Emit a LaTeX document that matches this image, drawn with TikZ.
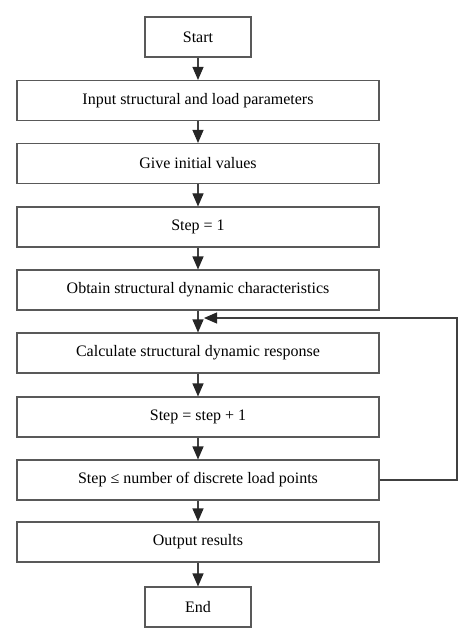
\documentclass[tikz,border=0pt]{standalone}
\usepackage{fontspec}
\setmainfont{Liberation Serif}
\usetikzlibrary{arrows.meta}
\begin{document}
\begin{tikzpicture}[x=1pt,y=-1pt]
\tikzstyle{every node}+=[inner sep=0pt]
\tikzstyle{box}=[draw=black!65, line width=1.1pt, minimum height=40pt, minimum width=362pt, font=\fontsize{16}{18}\selectfont]
\tikzstyle{term}=[box, minimum width=106pt]
\tikzstyle{arr}=[draw=black!75, line width=1.1pt, -{Triangle[width=11pt,length=13pt,color=black!85]}]
\useasboundingbox (0,0) rectangle (474,644);
\node[term] (start) at (198,37) {Start};
\node[box] (input) at (198,100.5) {Input structural and load parameters};
\node[box] (init) at (198,163.5) {Give initial values};
\node[box] (one) at (198,227) {Step = 1};
\node[box] (obtain) at (198,290) {Obtain structural dynamic characteristics};
\node[box] (calc) at (198,353) {Calculate structural dynamic response};
\node[box] (incr) at (198,417) {Step = step + 1};
\node[box] (cond) at (198,480) {Step ≤ number of discrete load points};
\node[box] (output) at (198,542) {Output results};
\node[term] (end) at (198,607) {End};
\coordinate (back) at (204,318);
\draw[arr] (start) -- (input);
\draw[arr] (input) -- (init);
\draw[arr] (init) -- (one);
\draw[arr] (one) -- (obtain);
\draw[arr] (obtain) -- (calc);
\draw[arr] (calc) -- (incr);
\draw[arr] (incr) -- (cond);
\draw[arr] (cond) -- (output);
\draw[arr] (output) -- (end);
\draw[arr] (cond.east) -- (457,480) -- (457,318) -- (back);
\end{tikzpicture}
\end{document}
